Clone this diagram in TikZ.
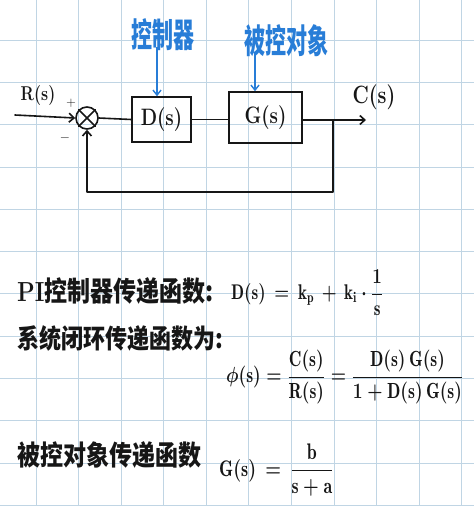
\documentclass[tikz,border=0pt]{standalone}
\usepackage{fix-cm}
\usepackage{fontspec}
\newfontfamily\cjk{Noto Sans CJK SC}
\usetikzlibrary{arrows.meta}
\definecolor{ink}{RGB}{22,22,22}
\definecolor{pen}{RGB}{40,125,215}
\definecolor{gridc}{RGB}{192,213,228}
\newcommand{\fs}[1]{\fontsize{#1}{#1}\selectfont}
\newcommand{\tallx}[2][1.25]{\scalebox{1}[#1]{#2}}
\begin{document}
\begin{tikzpicture}[x=1pt,y=-1pt,
  wire/.style={draw=ink,line width=1.6pt,line cap=round,line join=round},
  arr/.style={-{Straight Barb[length=5pt,width=9pt,line width=1.6pt]}},
  blk/.style={draw=ink,line width=1.6pt,inner sep=0pt,text=ink,font=\bfseries\fs{19}},
  sumc/.style={circle,draw=ink,line width=1.6pt,minimum size=22pt,inner sep=0pt},
  lbl/.style={text=ink,inner sep=1pt,font=\bfseries},
  bluelbl/.style={text=pen,inner sep=0pt,font=\cjk\bfseries\fs{21}},
  bluearr/.style={draw=pen,line width=1.4pt,-{Straight Barb[length=5pt,width=8pt,line width=1.4pt]}},
  txt/.style={text=ink,anchor=west,inner sep=0pt},
  mth/.style={text=ink,anchor=west,inner sep=0pt,execute at begin node=\boldmath}]
\fill[white] (0,0) rectangle (474,506);
\useasboundingbox (0,0) rectangle (474,506);
% grid paper
\foreach \i in {0,...,10}
  \draw[gridc,line width=0.8pt] ({36+42.56*\i},0) -- ({36+42.56*\i},506);
\foreach \j in {0,...,11}
  \draw[gridc,line width=0.8pt] (0,{40+42.3*\j}) -- (474,{40+42.3*\j});

% block diagram
\node[sumc] (sum) at (87,118) {};
\draw[wire] (sum.north west) -- (sum.south east);
\draw[wire] (sum.north east) -- (sum.south west);
\node[blk,minimum width=59pt,minimum height=45pt] (D) at (161.5,119.5) {\tallx{D(s)}};
\node[blk,minimum width=73pt,minimum height=51pt] (G) at (265.5,117.5) {\tallx{G(s)}};

\coordinate (in) at (15,115);
\coordinate (out) at (366,120);
\coordinate (tap) at (333,120);
\coordinate (fbR) at (333,192);

\draw[wire,arr] (in) -- (sum.west);
\draw[wire] (sum.east) -- (D.west);
\draw[wire] (D.east) -- (D.east -| G.west);
\draw[wire,arr] (G.east |- out) -- (out);
\draw[wire,arr] (tap) -- (fbR) -| (sum.south);

\node[lbl,font=\bfseries\fs{16}] (R) at (38,96) {\tallx{R(s)}};
\node[lbl,font=\fs{13}] (plus) at (71,103) {$+$};
\node[lbl,font=\fs{13}] (minus) at (65,138) {$-$};
\node[lbl,font=\bfseries\fs{20}] (C) at (374,97) {\tallx{C(s)}};

\node[bluelbl] (lD) at (163,35) {\tallx[1.6]{控制器}};
\node[bluelbl] (lG) at (286,41) {\tallx[1.6]{被控对象}};
\draw[bluearr] ([xshift=-6pt,yshift=4pt]lD.south) -- ([xshift=-4.5pt]D.north);
\draw[bluearr] ([xshift=-31pt,yshift=4pt]lG.south) -- ([xshift=-10.5pt]G.north);

% formulas
\node[txt,font=\bfseries\fs{23}] (t1) at (17,291) {\tallx[1.2]{PI\cjk\bfseries 控制器传递函数:}};
\node[mth,font=\fs{17}] (f1) at (231,293)
  {\tallx{$\displaystyle \mathrm{D(s)} \,=\, \mathrm{k}_{\mathrm{p}} \,+\, \mathrm{k}_{\mathrm{i}}\cdot\frac{1}{\mathrm{s}}$}};

\node[txt,font=\cjk\bfseries\fs{22}] (t2) at (17,338) {\tallx[1.2]{系统闭环传递函数为:}};
\node[mth,font=\fs{17.5}] (f2) at (226,377)
  {\tallx{$\displaystyle \phi(\mathrm{s}) = \frac{\mathrm{C(s)}}{\mathrm{R(s)}} = \frac{\mathrm{D(s)\,G(s)}}{1+\mathrm{D(s)\,G(s)}}$}};

\node[txt,font=\cjk\bfseries\fs{23}] (t3) at (17,455) {\tallx[1.2]{被控对象传递函数}};
\node[mth,font=\fs{18}] (f3) at (219,470)
  {\tallx{$\displaystyle \mathrm{G(s)} \,=\, \frac{\mathrm{b}}{\mathrm{s+a}}$}};
\end{tikzpicture}
\end{document}
